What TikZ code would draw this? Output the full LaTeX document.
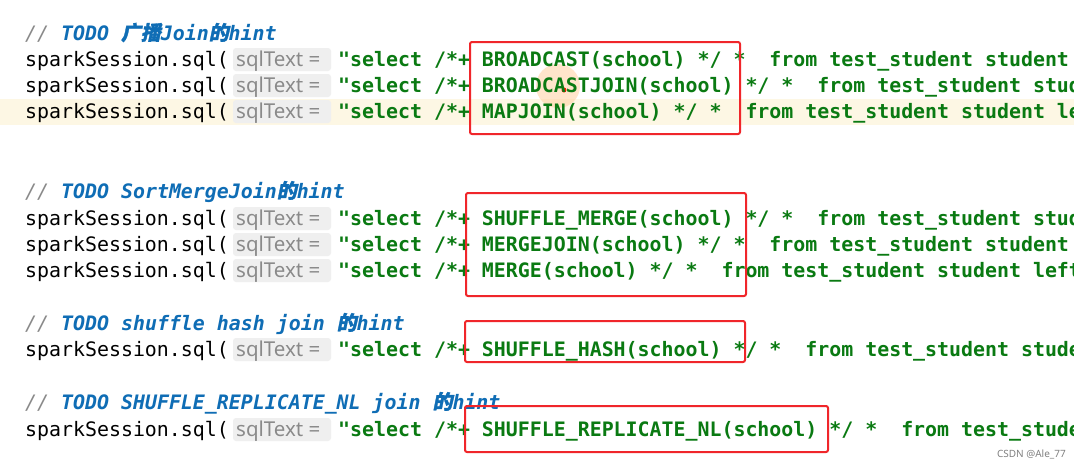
\documentclass[tikz,border=0pt]{standalone}
\usepackage{fontspec}
\setmonofont{DejaVu Sans Mono}
\newfontfamily\cjk[FakeSlant=0.2,FakeBold=1.5]{Noto Sans CJK SC}
\newfontfamily\lab{Noto Sans}
\definecolor{cblue}{HTML}{0F6DB5}
\definecolor{cgreen}{HTML}{0A7A12}
\definecolor{cgray}{HTML}{8A8A8A}
\definecolor{hl}{HTML}{FDF7E4}
\definecolor{lbox}{HTML}{EFEFEF}
\definecolor{rbox}{HTML}{F0262A}
\begin{document}
\begin{tikzpicture}[x=1pt,y=-1pt,
  txt/.style={anchor=base west,inner sep=0pt,font=\ttfamily\fontsize{19.9}{20}\selectfont},
  code/.style={txt,text=black},
  str/.style={txt,text=cgreen,font=\ttfamily\bfseries\fontsize{19.9}{20}\selectfont},
  cmt/.style={txt,text=cblue,font=\ttfamily\bfseries\itshape\fontsize{19.9}{20}\selectfont},
  slash/.style={txt,text=cgray,font=\ttfamily\itshape\fontsize{19.9}{20}\selectfont},
  lbl/.style={anchor=base west,inner sep=0pt,text=cgray,font=\lab\fontsize{20.5}{21}\selectfont},
  redbox/.style={draw=rbox,line width=2pt,rounded corners=2pt}]
\useasboundingbox (0,0) rectangle (1074,467);
\fill[white] (0,0) rectangle (1074,467);
\clip (0,0) rectangle (1074,467);
\fill[hl] (0,99) rectangle (1074,125);
\fill[orange!40,opacity=0.5] (558,86) circle (22);
\fill[red!80!orange] (564,90) circle (2.5);
\newcommand{\codeline}[3]{%
  \node[code] (s#1) at (25,#2) {sparkSession.sql(};
  \fill[lbox,rounded corners=3pt] (233,#2-18) rectangle (331,#2+5);
  \node[lbl] (l#1) at (236,#2) {sqlText =};
  \node[str] (q#1) at (338,#2) {#3};}
\newcommand{\cmtline}[3]{%
  \node[slash] (d#1) at (25,#2) {//};
  \node[cmt] (c#1) at (61,#2) {#3};}
\cmtline{a}{40}{TODO {\cjk 广播}Join{\cjk 的}hint}
\codeline{1}{66}{"select /*+ BROADCAST(school) */ *\ \ from test\_student student l}
\codeline{2}{92}{"select /*+ BROADCASTJOIN(school) */ *\ \ from test\_student stud}
\codeline{3}{118}{"select /*+ MAPJOIN(school) */ *\ \ from test\_student student left}
\cmtline{b}{198}{TODO SortMergeJoin{\cjk 的}hint}
\codeline{4}{225}{"select /*+ SHUFFLE\_MERGE(school) */ *\ \ from test\_student stud}
\codeline{5}{251}{"select /*+ MERGEJOIN(school) */ *\ \ from test\_student student}
\codeline{6}{277}{"select /*+ MERGE(school) */ *\ \ from test\_student student left}
\cmtline{c}{330}{TODO shuffle hash join {\cjk 的}hint}
\codeline{7}{356}{"select /*+ SHUFFLE\_HASH(school) */ *\ \ from test\_student stude}
\cmtline{e}{409}{TODO SHUFFLE\_REPLICATE\_NL join {\cjk 的}hint}
\codeline{8}{436}{"select /*+ SHUFFLE\_REPLICATE\_NL(school) */ *\ \ from test\_stude}
\draw[redbox] (470,42) rectangle (740,134);
\draw[redbox] (466,193) rectangle (746,296);
\draw[redbox] (465,321) rectangle (745,362);
\draw[redbox] (465,406) rectangle (828,452);
\node[anchor=base east,inner sep=0pt,text=gray,font=\lab\fontsize{10}{11}\selectfont] (wm) at (1066,457) {CSDN @Ale\_77};
\end{tikzpicture}
\end{document}
